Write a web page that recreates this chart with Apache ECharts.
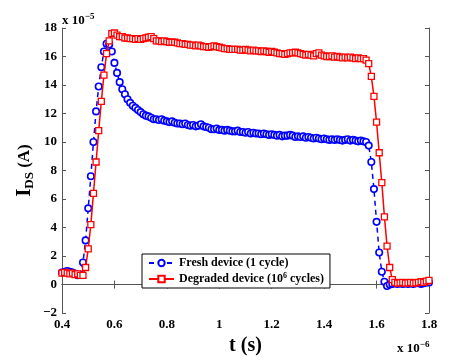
<!DOCTYPE html>
<html><head><meta charset="utf-8">
<script src="https://cdn.jsdelivr.net/npm/echarts@6/dist/echarts.min.js"></script>
<style>html,body{margin:0;padding:0;background:#fff}#c{width:474px;height:361px}</style>
</head><body><div id="c"></div>
<script>
// time in units of 1e-6 s
var times = [0.40,0.41,0.42,0.43,0.44,0.45,0.46,0.47,0.48,0.49,
0.50,0.51,0.52,0.53,0.54,0.55,0.56,0.57,0.58,0.59,
0.60,0.61,0.62,0.63,0.64,0.65,0.66,0.67,0.68,0.69,
0.70,0.71,0.72,0.73,0.74,0.75,0.76,0.77,0.78,0.79,
0.80,0.81,0.82,0.83,0.84,0.85,0.86,0.87,0.88,0.89,
0.90,0.91,0.92,0.93,0.94,0.95,0.96,0.97,0.98,0.99,
1.00,1.01,1.02,1.03,1.04,1.05,1.06,1.07,1.08,1.09,
1.10,1.11,1.12,1.13,1.14,1.15,1.16,1.17,1.18,1.19,
1.20,1.21,1.22,1.23,1.24,1.25,1.26,1.27,1.28,1.29,
1.30,1.31,1.32,1.33,1.34,1.35,1.36,1.37,1.38,1.39,
1.40,1.41,1.42,1.43,1.44,1.45,1.46,1.47,1.48,1.49,
1.50,1.51,1.52,1.53,1.54,1.55,1.56,1.57,1.58,1.59,
1.60,1.61,1.62,1.63,1.64,1.65,1.66,1.67,1.68,1.69,
1.70,1.71,1.72,1.73,1.74,1.75,1.76,1.77,1.78,1.79,1.80];
// current in units of 1e-5 A
var fresh = [0.85,0.9,0.95,0.9,0.85,0.75,0.65,0.7,1.55,3.1,
5.35,7.6,10.0,12.15,13.9,15.25,16.35,16.9,16.85,16.35,
15.55,14.85,14.2,13.7,13.35,13.0,12.75,12.55,12.4,12.25,
12.1,11.95,11.85,11.8,11.7,11.6,11.6,11.55,11.6,11.5,
11.45,11.4,11.45,11.35,11.3,11.3,11.25,11.3,11.2,11.15,
11.2,11.1,11.15,11.25,11.1,11.05,11.0,10.9,10.9,10.95,
10.85,10.85,10.8,10.85,10.8,10.75,10.75,10.8,10.7,10.7,
10.65,10.7,10.6,10.65,10.6,10.6,10.55,10.6,10.55,10.5,
10.55,10.5,10.45,10.5,10.4,10.45,10.45,10.5,10.45,10.35,
10.4,10.35,10.4,10.3,10.35,10.3,10.25,10.3,10.25,10.2,
10.25,10.2,10.15,10.2,10.15,10.2,10.15,10.1,10.15,10.2,
10.1,10.15,10.1,10.05,10.1,10.05,10.0,9.75,8.6,6.7,
4.4,2.25,0.9,0.2,-0.1,0.0,0.05,0.1,0.05,0.1,
0.05,0.1,0.05,0.1,0.05,0.1,0.1,0.05,0.1,0.15,0.15];
var degraded = [0.8,0.85,0.8,0.75,0.8,0.7,0.75,0.65,0.65,1.2,
2.5,4.2,6.4,8.6,10.8,12.85,14.7,16.2,17.1,17.6,
17.65,17.5,17.4,17.4,17.3,17.3,17.25,17.25,17.2,17.25,
17.2,17.25,17.3,17.35,17.4,17.25,17.1,17.1,17.05,17.1,
17.05,17.0,17.0,17.0,16.95,16.9,16.9,16.85,16.85,16.8,
16.8,16.75,16.8,16.75,16.7,16.7,16.65,16.7,16.75,16.7,
16.65,16.6,16.55,16.55,16.5,16.5,16.5,16.5,16.45,16.45,
16.5,16.45,16.4,16.45,16.4,16.4,16.35,16.4,16.35,16.3,
16.35,16.3,16.25,16.2,16.2,16.15,16.2,16.25,16.25,16.3,
16.25,16.2,16.15,16.1,16.15,16.1,16.05,16.2,16.25,16.1,
16.05,16.0,16.0,16.05,15.95,16.0,15.95,15.9,15.95,15.9,
15.95,15.9,15.85,15.9,15.85,15.85,15.75,15.5,14.6,13.2,
11.4,9.25,7.15,4.75,2.7,1.2,0.35,0.15,0.1,0.12,
0.15,0.1,0.12,0.15,0.1,0.12,0.15,0.2,0.15,0.25,0.3];
var xTicks = ['0.4','0.6','0.8','1','1.2','1.4','1.6','1.8'];
var yTicks = ['\u22122','0','2','4','6','8','10','12','14','16','18'];
var seriesNames = ['Fresh device (1 cycle)', 'Degraded device (10^6 cycles)'];

function pairs(v){ return times.map(function(t,i){ return [t, v[i]]; }); }
var F = 'Liberation Serif';
var axisColor = '#555';
var chart = echarts.init(document.getElementById('c'), null, {renderer:'canvas'});
var tickLabel = {fontFamily:F, fontWeight:'bold', fontSize:13, color:'#000'};
chart.setOption({
  animation:false,
  grid:{left:62, right:45, top:28, bottom:41},
  xAxis:[{
    type:'value', min:0.4, max:1.8, interval:0.2, position:'bottom',
    axisLine:{lineStyle:{color:axisColor, width:1}},
    axisTick:{inside:true, length:4, lineStyle:{color:axisColor}},
    splitLine:{show:false},
    axisLabel:Object.assign({margin:5, formatter:function(v){ var i=Math.round((v-0.4)/0.2); return xTicks[i]; }}, tickLabel),
    name:'t (s)', nameLocation:'middle', nameGap:15,
    nameTextStyle:{fontFamily:F, fontWeight:'bold', fontSize:20, color:'#000'}
  },{
    type:'value', min:0.4, max:1.8, interval:0.2, position:'top',
    axisLine:{lineStyle:{color:axisColor}},
    axisTick:{inside:true, length:4, lineStyle:{color:axisColor}},
    axisLabel:{show:false}, splitLine:{show:false}
  }],
  yAxis:[{
    type:'value', min:-2, max:18, interval:2, position:'left',
    axisLine:{show:true, lineStyle:{color:axisColor}},
    axisTick:{show:true, inside:true, length:4, lineStyle:{color:axisColor}},
    splitLine:{show:false},
    axisLabel:Object.assign({margin:5, formatter:function(v){ var i=Math.round((v+2)/2); return yTicks[i]; }}, tickLabel),
    name:'{i|I}{s|DS}{a| (A)}', nameLocation:'middle', nameGap:26, nameMoveOverlap:false,
    nameTextStyle:{fontFamily:F, fontWeight:'bold', color:'#000',
      rich:{i:{fontFamily:F, fontWeight:'bold', fontSize:21, color:'#000'},
            s:{fontFamily:F, fontWeight:'bold', fontSize:13, color:'#000', verticalAlign:'bottom', padding:[9,0,0,0]},
            a:{fontFamily:F, fontWeight:'bold', fontSize:17, color:'#000'}}}
  },{
    type:'value', min:-2, max:18, interval:2, position:'right',
    axisLine:{show:true, lineStyle:{color:axisColor}},
    axisTick:{show:true, inside:true, length:4, lineStyle:{color:axisColor}},
    axisLabel:{show:false}, splitLine:{show:false}
  }],
  legend:{
    left:142, top:254, width:187, orient:'vertical',
    padding:[3,6,3,6], itemGap:3, itemWidth:25, itemHeight:8,
    borderColor:'#000', borderWidth:1, backgroundColor:'#fff',
    data:seriesNames,
    formatter:function(n){ return n===seriesNames[1] ? '{a|Degraded device (10}{s|6}{a| cycles)}' : '{a|'+n+'}'; },
    textStyle:{fontFamily:F, fontWeight:'bold', fontSize:12, color:'#000',
      rich:{a:{fontFamily:F, fontWeight:'bold', fontSize:12, color:'#000'},
            s:{fontFamily:F, fontWeight:'bold', fontSize:8, color:'#000', verticalAlign:'top', padding:[0,0,6,0]}}}
  },
  graphic:[
    {type:'text', left:62, top:12, style:{text:'{a|x 10}{s|\u22125}', fill:'#000',
      rich:{a:{fontFamily:F, fontWeight:'bold', fontSize:13}, s:{fontFamily:F, fontWeight:'bold', fontSize:9, padding:[0,0,8,0]}}}},
    {type:'text', left:397, top:340, style:{text:'{a|x 10}{s|\u22126}', fill:'#000',
      rich:{a:{fontFamily:F, fontWeight:'bold', fontSize:13}, s:{fontFamily:F, fontWeight:'bold', fontSize:9, padding:[0,0,8,0]}}}}
  ],
  series:[{
    name:seriesNames[0], type:'line', data:pairs(fresh),
    symbol:'circle', symbolSize:6.5, showAllSymbol:true,
    lineStyle:{color:'#0000ff', width:1.5, type:[5,4]},
    itemStyle:{color:'#fff', borderColor:'#0000ff', borderWidth:1.6},
    color:'#0000ff', z:2
  },{
    name:seriesNames[1], type:'line', data:pairs(degraded),
    symbol:'rect', symbolSize:6, showAllSymbol:true,
    lineStyle:{color:'#ff0000', width:1.5},
    itemStyle:{color:'#fff', borderColor:'#ff0000', borderWidth:1.3},
    color:'#ff0000', z:3
  }]
});
</script></body></html>
